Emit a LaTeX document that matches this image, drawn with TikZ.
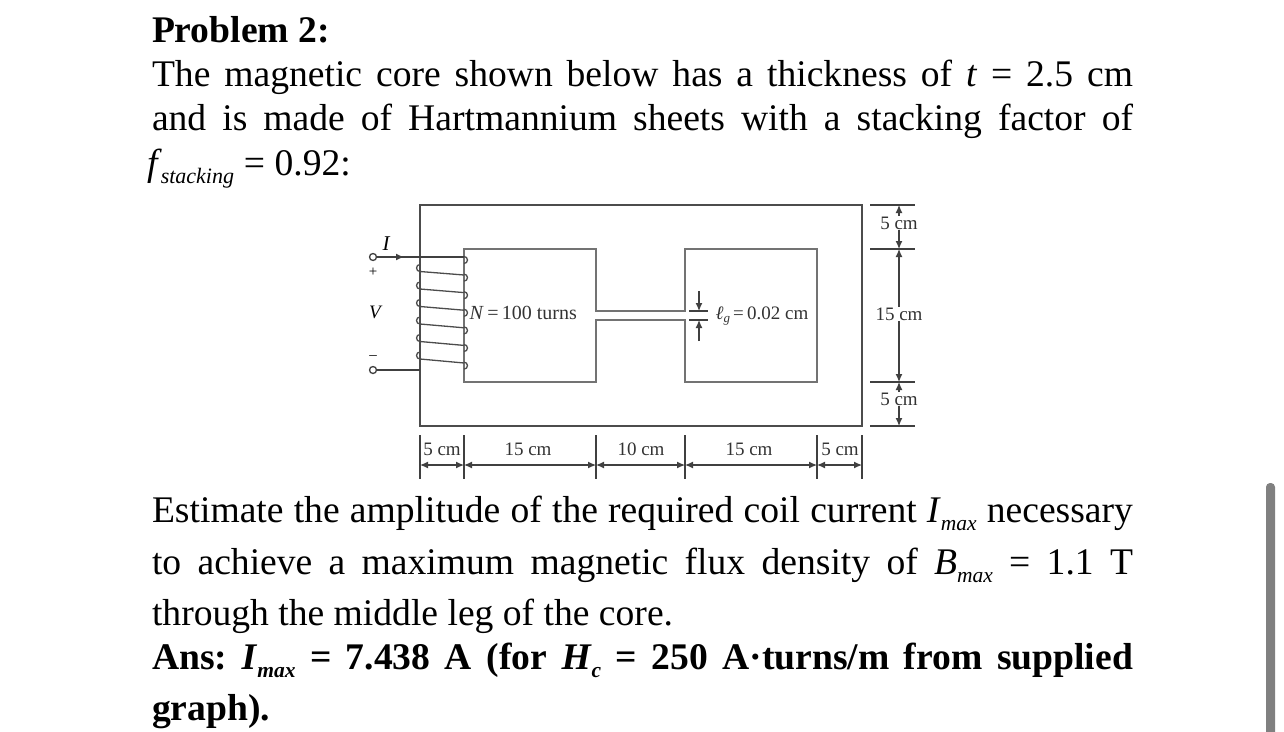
\documentclass[tikz,border=0pt]{standalone}
\usepackage{fontspec}
\setmainfont{Liberation Serif}
\usetikzlibrary{arrows.meta}
\frenchspacing
\newcommand{\fitline}[1]{\makebox[981pt][s]{\strut #1}}
\newcommand{\subtext}[1]{\raisebox{-8pt}{\fontsize{21.5}{21.5}\selectfont\textit{#1}}}
\begin{document}
\begin{tikzpicture}[x=1pt,y=-1pt,line width=1.3pt,
textline/.style={anchor=base west,inner sep=0pt,outer sep=0pt,font=\fontsize{37.6}{37.6}\selectfont},
dimlabel/.style={inner sep=1pt,fill=white,font=\fontsize{19}{19}\selectfont,text=black!80},
core/.style={draw=black!70,line width=1.5pt},
window/.style={draw=black!55,line width=1.8pt},
dimline/.style={draw=black!75,line width=1.2pt},
dimarrow/.style={dimline,{Latex[length=8pt,width=7pt]}-{Latex[length=8pt,width=7pt]}},
terminal/.style={circle,draw=black!75,line width=1.3pt,fill=white,minimum size=7pt,inner sep=0pt}]
\useasboundingbox (0,0) rectangle (1284,731);
% text above the figure
\node [textline](t1) at (152,42) {\textbf{Problem 2:}};
\node [textline](t2) at (152,86) {\fitline{The magnetic core shown below has a thickness of \textit{t} = 2.5 cm}};
\node [textline](t3) at (152,130) {\fitline{and is made of Hartmannium sheets with a stacking factor of}};
\node [textline](t4) at (147,175) {\textit{f}\hspace{-1pt}\raisebox{-8pt}{\fontsize{22}{22}\selectfont\textit{stacking}}\hspace{0.5pt} = 0.92:};
% core
\draw [core] (420,205) rectangle (862,426);
\draw [window] (596,311) -- (596,249) -- (464,249) -- (464,382) -- (596,382) -- (596,320) -- (685,320) -- (685,382) -- (817,382) -- (817,249) -- (685,249) -- (685,311) -- cycle;
% coil
\node [terminal](vp) at (373,257) {};
\node [terminal](vm) at (373,370) {};
\coordinate (cp) at (464,257);
\coordinate (cm) at (420,370);
\draw [black!75] (vp) -- (cp);
\draw [black!75] (vm) -- (cm);
\draw [-{Latex[length=8pt,width=7pt]},black!75] (vp) -- (404,257);
\foreach \i in {0,...,5} {
  \draw [black!70] (420,{264.5+17.5*\i}) arc (-90:-270:3.5) -- (464,{275+17.6*\i});
  \draw [black!70] (464,{256.5+17.6*\i}) arc (-90:90:3.5);
}
\draw [black!70] (464,362.1) arc (-90:90:3.5);
\node [font=\fontsize{21}{21}\selectfont\itshape](ilabel) at (386,244) {I};
\node [font=\fontsize{15}{15}\selectfont](plus) at (373,272) {+};
\node [font=\fontsize{19}{19}\selectfont\itshape](vlabel) at (375,312) {V};
\node [font=\fontsize{15}{15}\selectfont](minus) at (373,358) {--};
\node [dimlabel,fill=none,anchor=west,inner sep=0pt](nturns) at (469,313) {\fontsize{20}{20}\selectfont\textit{N}\,=\,100 turns};
% gap
\coordinate (g1) at (699,311);
\coordinate (g2) at (699,320);
\coordinate (g3) at (699,291);
\coordinate (g4) at (699,341);
\draw [dimline] (689,311) -- (708,311);
\draw [dimline] (689,320) -- (708,320);
\draw [dimline,-{Latex[length=8pt,width=7pt]}] (g3) -- (g1);
\draw [dimline,-{Latex[length=8pt,width=7pt]}] (g4) -- (g2);
\node [dimlabel,fill=none,anchor=west,inner sep=0pt](gaplabel) at (715,316) {\textit{ℓ}\raisebox{-3pt}{\fontsize{13}{13}\selectfont\textit{g}}\,=\,0.02 cm};
% right dimensions
\foreach \name/\y in {r1/205,r2/249,r3/382,r4/426} {
  \coordinate (\name a) at (870,\y);
  \coordinate (\name b) at (915,\y);
  \coordinate (\name) at (899,\y);
  \draw [dimline] (\name a) -- (\name b);
}
\draw [dimarrow] (r1) -- (r2);
\draw [dimarrow] (r2) -- (r3);
\draw [dimarrow] (r3) -- (r4);
\node [dimlabel](d1) at (899,223) {5 cm};
\node [dimlabel](d2) at (899,314) {15 cm};
\node [dimlabel](d3) at (899,399) {5 cm};
% bottom dimensions
\foreach \name/\x in {s1/420,s2/464,s3/596,s4/685,s5/817,s6/862} {
  \coordinate (\name a) at (\x,435);
  \coordinate (\name b) at (\x,479);
  \coordinate (\name) at (\x,465);
  \draw [dimline] (\name a) -- (\name b);
}
\draw [dimarrow] (s1) -- (s2);
\draw [dimarrow] (s2) -- (s3);
\draw [dimarrow] (s3) -- (s4);
\draw [dimarrow] (s4) -- (s5);
\draw [dimarrow] (s5) -- (s6);
\node [dimlabel,fill=none,inner sep=0pt](e1) at (442,449) {5 cm};
\node [dimlabel,fill=none,inner sep=0pt](e2) at (528,449) {15 cm};
\node [dimlabel,fill=none,inner sep=0pt](e3) at (641,449) {10 cm};
\node [dimlabel,fill=none,inner sep=0pt](e4) at (749,449) {15 cm};
\node [dimlabel,fill=none,inner sep=0pt](e5) at (840,449) {5 cm};
% text below the figure
\node [textline](t5) at (152,522) {\fitline{Estimate the amplitude of the required coil current \textit{I}\subtext{max} necessary}};
\node [textline](t6) at (152,574) {\fitline{to achieve a maximum magnetic flux density of \textit{B}\subtext{max} = 1.1 T}};
\node [textline](t7) at (152,625) {through the middle leg of the core.};
\node [textline](t8) at (152,669) {\fitline{\textbf{Ans: \textit{I}\subtext{max} = 7.438 A (for \textit{H}\subtext{c} = 250 A·turns/m from supplied}}};
\node [textline](t9) at (152,720) {\textbf{graph).}};
% scroll bar
\fill [black!50,rounded corners=4pt] (1266,483) rectangle (1275,745);
\end{tikzpicture}
\end{document}
